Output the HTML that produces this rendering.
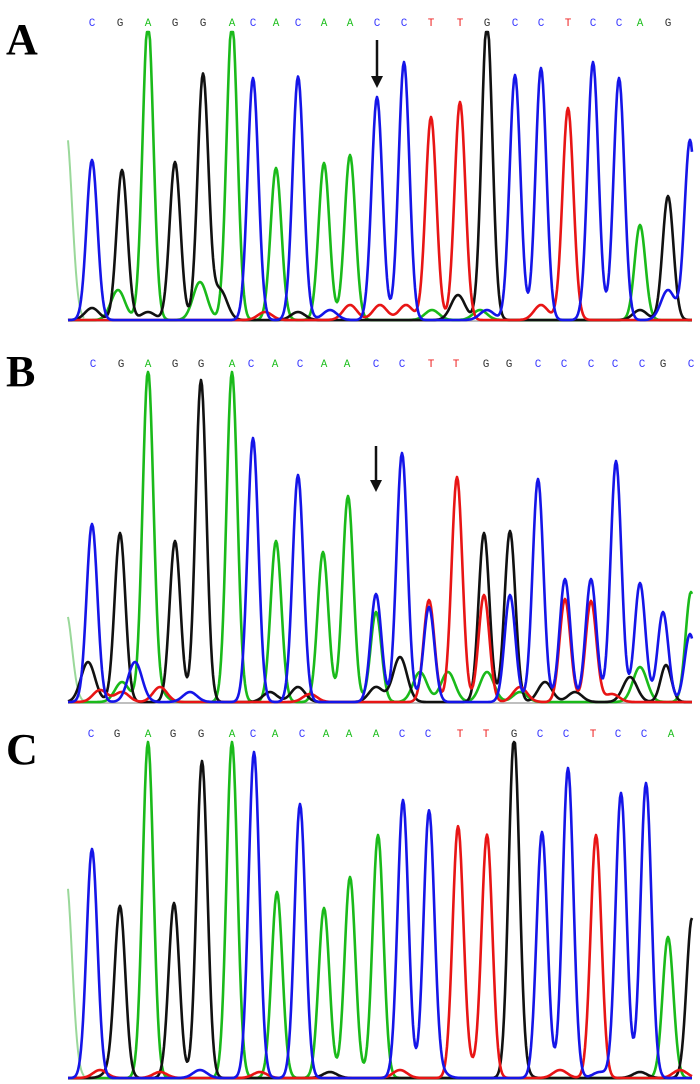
<!DOCTYPE html>
<html><head><meta charset="utf-8"><style>
html,body{margin:0;padding:0;background:#fff;}
svg{display:block;}
</style></head><body>
<svg id="fig" width="700" height="1084" viewBox="0 0 700 1084" xmlns="http://www.w3.org/2000/svg">
<text x="6" y="54" font-family="Liberation Serif, serif" font-weight="bold" font-size="44">A</text>
<text x="6" y="386" font-family="Liberation Serif, serif" font-weight="bold" font-size="44">B</text>
<text x="6" y="764" font-family="Liberation Serif, serif" font-weight="bold" font-size="44">C</text>
</svg>
<script>
// Panel A
const seqA = "CGAGGACACAACCTTGCCTCCAG";
const seqAx = [92,120,148,175,203,232,253,276,298,324,350,377,404,431,460,487,515,541,568,593,619,640,668];
const peakAx = [92,122,148,175,203,232,253,276,298,324,350,377,404,431,460,487,515,541,568,593,619,640,668,690];
const peakAc = "CGAGGACACAACCTTGCCTCCAGC";
const peakAh = [160,150,300,158,245,300,242,152,232,157,165,223,258,203,218,300,245,252,197,250,242,95,124,180];
const noiseAx = [92,118,100,148,200,220,265,298,300,330,350,380,406,458,432,480,487,541,568,593,640,668];
const noiseAc = "GARGAGTGCCTTTGAACTTCGCC";
const noiseAh = [12,30,8,8,38,30,8,8,12,10,15,15,15,25,10,10,10,15,15,8,10,30];
// Panel B
const seqB = "CGAGGACACAACCTTGGCCCCCGC";
const seqBx = [93,121,148,175,201,232,251,275,300,324,347,376,402,431,456,486,509,538,564,591,615,642,663,691];
const peakBx = [92,120,148,175,201,232,253,276,298,323,348,376,376,402,429,429,457,484,484,510,510,538,565,565,591,591,616,640,663,666,691,690];
const peakBc = "CGAGGACACAACACCTTGTGCCCTCTCCCGACG";
const peakBh = [178,169,330,161,322,330,264,161,227,150,206,108,90,249,95,102,225,169,107,171,107,223,123,103,123,101,241,119,90,37,110,68];
const noiseBx = [88,100,122,122,135,160,160,190,270,298,310,376,400,420,448,487,520,520,545,575,630,640,612];
const noiseBc = "GTTACTACGGTGGAAATAGGGAT";
const noiseBh = [40,12,10,20,40,15,8,10,10,15,8,15,45,30,30,30,15,10,20,10,25,35,8];
// Panel C
const seqC = "CGAGGACACAAACCTTGCCTCCA";
const seqCx = [91,117,148,173,201,232,253,275,302,326,349,376,402,428,460,486,514,540,566,593,618,644,671];
const peakCx = [92,120,148,174,202,232,254,277,300,324,350,378,403,429,458,487,514,542,568,596,621,646,668,692];
const peakCc = "CGAGGACACAAACCTTGCCTCCAG";
const peakCh = [229,170,336,175,317,336,326,186,274,170,201,243,278,266,250,243,336,246,310,243,285,295,141,160];
const noiseCx = [100,110,160,200,260,330,400,440,470,520,560,600,640,680];
const noiseCc = "TGTCTGTCTGTCGT";
const noiseCh = [8,6,6,8,6,6,8,6,8,6,8,6,6,8];
// faded left-edge peaks (A, B, C)
const edgeH = [190,90,200];

const panels = [
  {seq:seqA, sx:seqAx, ly:26, base:320, top:32, px:peakAx, pc:peakAc, ph:peakAh, nx:noiseAx, nc:noiseAc, nh:noiseAh, name:'a'},
  {seq:seqB, sx:seqBx, ly:367, base:702, top:372, px:peakBx, pc:peakBc, ph:peakBh, nx:noiseBx, nc:noiseBc, nh:noiseBh, name:'b'},
  {seq:seqC, sx:seqCx, ly:737, base:1078, top:742, px:peakCx, pc:peakCc, ph:peakCh, nx:noiseCx, nc:noiseCc, nh:noiseCh, name:'c'}
];
const colors = {C:'#1515e8', G:'#111', A:'#1aba1a', T:'#e81515'};
const lblColors = {C:'#3a3aff', G:'#333', A:'#22c022', T:'#ee2020'};
const NS='http://www.w3.org/2000/svg';
const svg=document.getElementById('fig');
const xMin=68, xMax=692, sigma=5.4;

panels.forEach((p,pi)=>{
  const bl=document.createElementNS(NS,'line');
  
  
  bl.setAttribute('x1',xMin);bl.setAttribute('x2',xMax);
  bl.setAttribute('y1',p.base+1);bl.setAttribute('y2',p.base+1);
  bl.setAttribute('stroke','#aaa');bl.setAttribute('stroke-width','1.5');
  svg.appendChild(bl);
  // faded left edge
  const ep=[];
  for(let x=xMin;x<=84;x++){const d=x-66; const v=edgeH[pi]*Math.exp(-d*d/(2*36)); ep.push(x+','+(p.base-v).toFixed(1));}
  const el=document.createElementNS(NS,'polyline');
  
  
  el.setAttribute('points',ep.join(' '));
  el.setAttribute('fill','none');el.setAttribute('stroke','#9ad89a');el.setAttribute('stroke-width','2');
  svg.appendChild(el);
  for(let i=0;i<p.seq.length;i++){
    const t=document.createElementNS(NS,'text');
    
    
    t.setAttribute('x',p.sx[i]);t.setAttribute('y',p.ly);
    t.setAttribute('text-anchor','middle');
    t.setAttribute('font-family','Liberation Mono, monospace');
    t.setAttribute('font-size','11');
    t.setAttribute('fill',lblColors[p.seq[i]]);
    t.textContent=p.seq[i];
    svg.appendChild(t);
  }
  ['A','G','T','C'].forEach(ch=>{
    const pts=[];
    for(let x=xMin;x<=xMax;x+=1){
      let v=0;
      for(let i=0;i<p.px.length;i++){ if(p.pc[i]===ch){const d=x-p.px[i]; v+=p.ph[i]*Math.exp(-d*d/(2*sigma*sigma));} }
      for(let i=0;i<p.nx.length;i++){ if(p.nc[i]===ch){const d=x-p.nx[i]; v+=p.nh[i]*Math.exp(-d*d/(2*49));} }
      let y=p.base-v; if(y<p.top) y=p.top;
      pts.push(x+','+y.toFixed(1));
    }
    const pl=document.createElementNS(NS,'polyline');
    
    
    pl.setAttribute('points',pts.join(' '));
    pl.setAttribute('fill','none');
    pl.setAttribute('stroke',colors[ch]);
    pl.setAttribute('stroke-width','2.6');
    pl.setAttribute('stroke-linejoin','round');
    svg.appendChild(pl);
  });
});
[[377,40,88,'arrow-a'],[376,446,492,'arrow-b']].forEach(a=>{
  const g=document.createElementNS(NS,'g');
  
  
  g.innerHTML='<line x1="'+a[0]+'" y1="'+a[1]+'" x2="'+a[0]+'" y2="'+(a[2]-8)+'" stroke="#111" stroke-width="2.5"/><polygon points="'+(a[0]-6)+','+(a[2]-12)+' '+(a[0]+6)+','+(a[2]-12)+' '+a[0]+','+a[2]+'" fill="#111"/>';
  svg.appendChild(g);
});
</script>
</body></html>
